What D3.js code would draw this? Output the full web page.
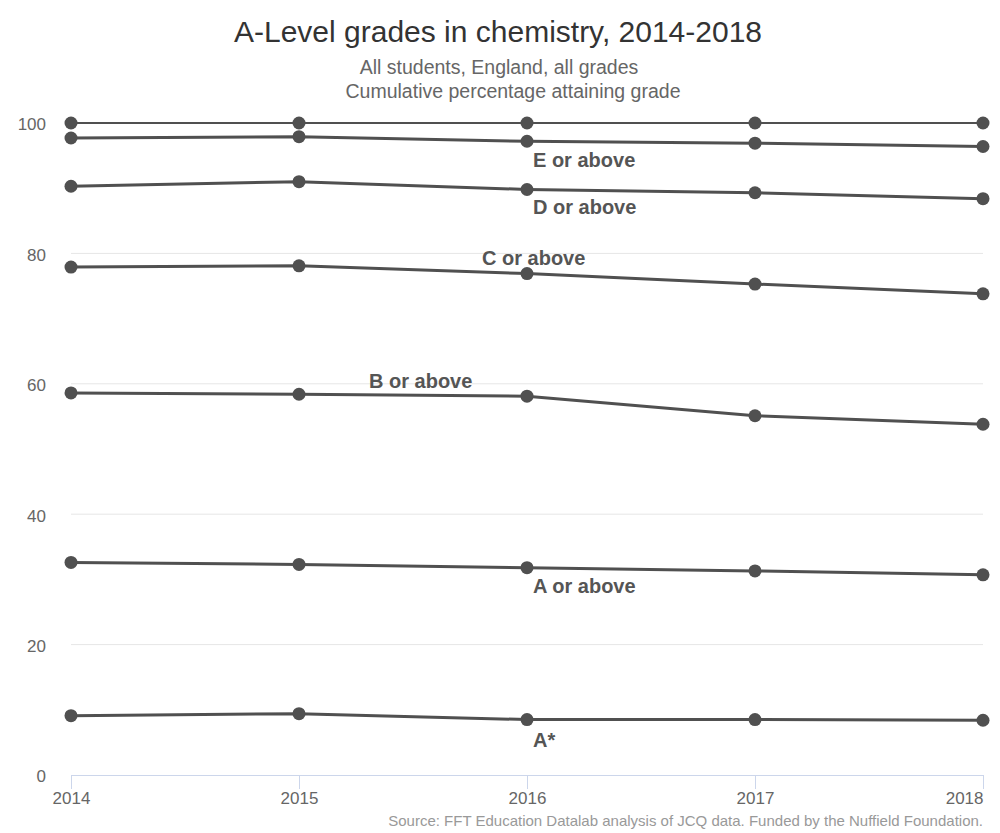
<!DOCTYPE html>
<html>
<head>
<meta charset="utf-8">
<script src="https://cdn.jsdelivr.net/npm/d3@7.9.0/dist/d3.min.js"></script>
<style>
  body { margin: 0; background: #fff; }
  svg { font-family: "Liberation Sans", Arial, sans-serif; }
</style>
</head>
<body>
<svg id="chart" width="1000" height="833"></svg>
<script>
// data
const years = [2014, 2015, 2016, 2017, 2018];
const yTicks = [0, 20, 40, 60, 80, 100];

const allGrades = [100, 100, 100, 100, 100];
const eOrAbove = [97.7, 97.9, 97.2, 96.9, 96.4];
const dOrAbove = [90.3, 91.0, 89.8, 89.3, 88.4];
const cOrAbove = [77.9, 78.1, 76.9, 75.3, 73.8];
const bOrAbove = [58.6, 58.4, 58.1, 55.1, 53.8];
const aOrAbove = [32.6, 32.3, 31.8, 31.3, 30.7];
const aStar = [9.1, 9.4, 8.5, 8.5, 8.4];

const seriesNames = ["", "E or above", "D or above", "C or above", "B or above", "A or above", "A*"];
const seriesValues = [allGrades, eOrAbove, dOrAbove, cOrAbove, bOrAbove, aOrAbove, aStar];
// label anchor: [point index, dx, dy]
const labelSpots = [null, [2, 6, 26], [2, 6, 24], [2, -45, -9], [1, 70, -6], [2, 6, 25], [2, 6, 27]];

const width = 1000, height = 833;
const margin = { top: 123, right: 17, bottom: 58, left: 71 };

const svg = d3.select('#chart');

const x = d3.scaleLinear()
    .domain([2014, 2018])
    .range([margin.left, width - margin.right]);

const y = d3.scaleLinear()
    .domain([0, 100])
    .range([height - margin.bottom, margin.top]);

// title + subtitle
svg.append('text')
    .attr('x', 498).attr('y', 42)
    .attr('text-anchor', 'middle')
    .attr('font-size', 30)
    .attr('fill', '#333')
    .text('A-Level grades in chemistry, 2014-2018');

svg.append('text')
    .attr('x', 499).attr('y', 74)
    .attr('text-anchor', 'middle')
    .attr('font-size', 19.5)
    .attr('fill', '#666')
    .text('All students, England, all grades');

svg.append('text')
    .attr('x', 513).attr('y', 98)
    .attr('text-anchor', 'middle')
    .attr('font-size', 19.5)
    .attr('fill', '#666')
    .text('Cumulative percentage attaining grade');

// grid lines
svg.append('g')
    .selectAll('line')
    .data(yTicks.filter(d => d > 0))
    .join('line')
    .attr('x1', margin.left)
    .attr('x2', width - margin.right)
    .attr('y1', d => y(d))
    .attr('y2', d => y(d))
    .attr('stroke', '#e6e6e6')
    .attr('stroke-width', 1);

// y axis labels
const yAxis = svg.append('g')
    .attr('transform', `translate(${margin.left - 25},0)`)
    .call(d3.axisLeft(y).tickValues(yTicks).tickSize(0).tickPadding(0));
yAxis.select('.domain').remove();
yAxis.selectAll('text')
    .attr('font-size', 17)
    .attr('font-family', '"Liberation Sans", Arial, sans-serif')
    .attr('fill', '#666')
    .attr('dy', '0.4em');

// x axis
const xAxis = svg.append('g')
    .attr('transform', `translate(0,${y(0)})`)
    .call(d3.axisBottom(x).tickValues(years).tickFormat(d3.format('d')).tickSize(14).tickPadding(3).tickSizeOuter(0));
xAxis.select('.domain').attr('stroke', '#ccd6eb');
xAxis.selectAll('.tick line').attr('stroke', '#ccd6eb');
xAxis.selectAll('text')
    .attr('font-size', 17)
    .attr('font-family', '"Liberation Sans", Arial, sans-serif')
    .attr('fill', '#666')
    .attr('text-anchor', d => d === 2018 ? 'end' : 'middle');

// lines + markers
const line = d3.line()
    .x((d, i) => x(years[i]))
    .y(d => y(d));

seriesValues.forEach((vals, si) => {
    svg.append('path')
        .datum(vals)
        .attr('d', line)
        .attr('fill', 'none')
        .attr('stroke', '#505050')
        .attr('stroke-width', si === 0 ? 2 : 3);

    svg.append('g')
        .selectAll('circle')
        .data(vals)
        .join('circle')
        .attr('cx', (d, i) => x(years[i]))
        .attr('cy', d => y(d))
        .attr('r', 6.5)
        .attr('fill', '#505050');

    const spot = labelSpots[si];
    if (spot) {
        const [idx, dx, dy] = spot;
        svg.append('text')
            .attr('x', x(years[idx]) + dx)
            .attr('y', y(vals[idx]) + dy)
            .attr('font-size', 20)
            .attr('font-weight', 'bold')
            .attr('fill', '#555')
            .text(seriesNames[si]);
    }
});

// source credit
svg.append('text')
    .attr('x', 983).attr('y', 826)
    .attr('text-anchor', 'end')
    .attr('font-size', 15)
    .attr('fill', '#999')
    .text('Source: FFT Education Datalab analysis of JCQ data. Funded by the Nuffield Foundation.');
</script>
</body>
</html>
